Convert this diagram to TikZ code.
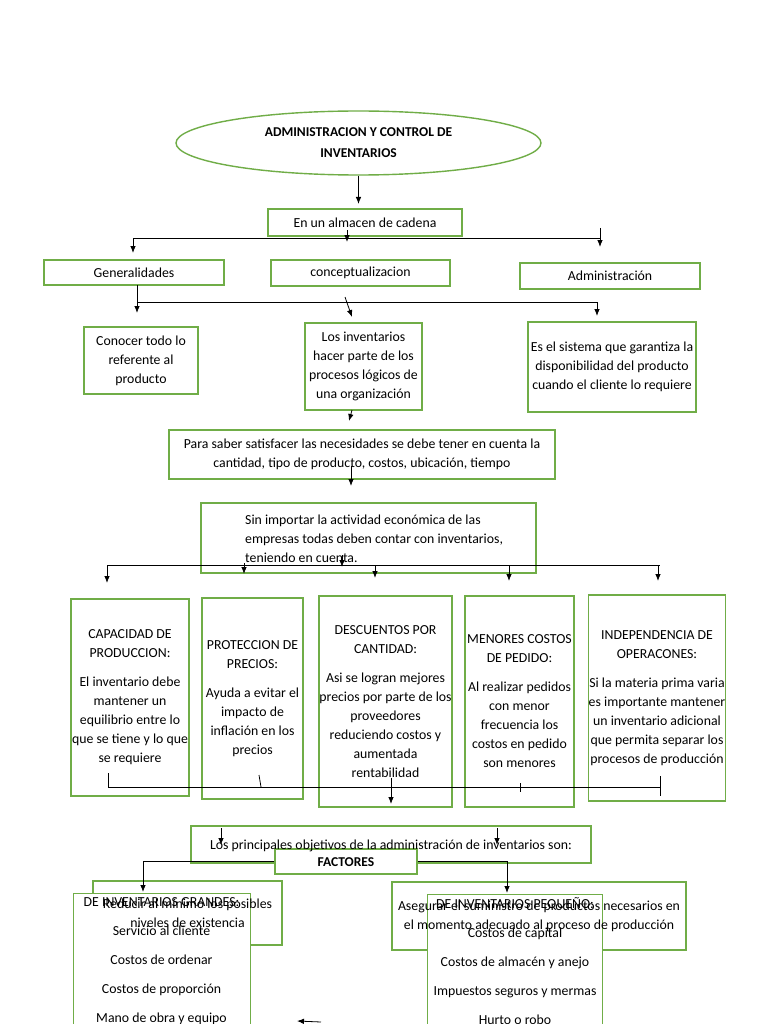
\documentclass[tikz,border=0pt]{standalone}
\usepackage{fontspec}
\setmainfont{Carlito}
\usetikzlibrary{arrows.meta,shapes.geometric}
\definecolor{gbox}{HTML}{70AD47}
\begin{document}
\begin{tikzpicture}[x=1pt,y=-1pt,
  box/.style={draw=gbox,line width=1.4pt,inner sep=0pt,align=center,font=\fontsize{13.8}{19}\selectfont},
  txt/.style={inner sep=0pt,align=center,font=\fontsize{13.8}{19}\selectfont},
  arr/.style={-{Latex[length=7pt,width=5.5pt]},line width=0.8pt},
  ln/.style={line width=0.8pt}]
\useasboundingbox (0,0) rectangle (768,1024);
\clip (0,0) rectangle (768,1024);
\fill[white] (0,0) rectangle (768,1024);

% ---- boxes ----
\node[box,ellipse,minimum width=365,minimum height=64,font=\bfseries\fontsize{13.5}{21}\selectfont] (ell) at (358.5,143) {ADMINISTRACION Y CONTROL DE\\INVENTARIOS};
\node[box,minimum width=194,minimum height=27] (alm) at (365,222.5) {En un almacen de cadena};
\node[box,minimum width=180,minimum height=25] (gen) at (134,272.5) {Generalidades};
\node[box,minimum width=179,minimum height=26] (conc) at (360.5,273) {conceptualizacion};
\node[box,minimum width=180,minimum height=26] (adm) at (610,276) {Administración};
\node[box,minimum width=114,minimum height=67] (conoc) at (141,360.5) {Conocer todo lo\\referente al\\producto};
\node[box,minimum width=117,minimum height=87] (losinv) at (363.5,366.5) {Los inventarios\\hacer parte de los\\procesos lógicos de\\una organización};
\node[box,minimum width=168,minimum height=90] (sist) at (612,367) {Es el sistema que garantiza la\\disponibilidad del producto\\cuando el cliente lo requiere};
\node[box,minimum width=386,minimum height=49] (para) at (362,454.5) {Para saber satisfacer las necesidades se debe tener en cuenta la\\cantidad, tipo de producto, costos, ubicación, tiempo};
\node[box,minimum width=335,minimum height=70] (sin) at (368.5,538) {};
\node[txt,align=left,anchor=west] (sintxt) at (245,538.5) {Sin importar la actividad económica de las\\empresas todas deben contar con inventarios,\\teniendo en cuenta.};

\node[box,minimum width=118,minimum height=197] (cap) at (130,697.5) {CAPACIDAD DE\\PRODUCCION:\\[10pt]El inventario debe\\mantener un\\equilibrio entre lo\\que se tiene y lo que\\se requiere};
\node[box,minimum width=101,minimum height=201] (prot) at (252.5,698.5) {PROTECCION DE\\PRECIOS:\\[10pt]Ayuda a evitar el\\impacto de\\inflación en los\\precios};
\node[box,minimum width=133,minimum height=211] (desc) at (385.5,701.5) {DESCUENTOS POR\\CANTIDAD:\\[10pt]Asi se logran mejores\\precios por parte de los\\proveedores\\reduciendo costos y\\aumentada\\rentabilidad};
\node[box,minimum width=109,minimum height=211] (men) at (519.5,701.5) {MENORES COSTOS\\DE PEDIDO:\\[10pt]Al realizar pedidos\\con menor\\frecuencia los\\costos en pedido\\son menores};
\node[box,minimum width=136,minimum height=206] (indep) at (657,698) {INDEPENDENCIA DE\\OPERACONES:\\[10pt]Si la materia prima varia\\es importante mantener\\un inventario adicional\\que permita separar los\\procesos de producción};

\node[box,minimum width=400,minimum height=37] (obj) at (391,844.5) {};
\node[box,fill=white,minimum width=142,minimum height=25] (fact) at (346,861.5) {};
\node[txt] (objtxt) at (391,846) {Los principales objetivos de la administración de inventarios son:};
\node[txt,font=\bfseries\fontsize{13.5}{19}\selectfont] (facttxt) at (346,862) {FACTORES};

\node[box,minimum width=189,minimum height=64] (red) at (187.5,913) {};
\node[box,fill=white,minimum width=177,minimum height=150,anchor=north west] (gra) at (73,893) {};
\node[txt] (redtxt) at (187.5,913.5) {Reducir al mínimo los posibles\\niveles de existencia};
\node[txt,font=\fontsize{13.8}{29}\selectfont] (gratxt) at (161.5,961) {DE INVENTARIOS GRANDES:\\Servicio al cliente\\Costos de ordenar\\Costos de proporción\\Mano de obra y equipo};

\node[box,minimum width=294,minimum height=68] (aseg) at (539,916) {};
\node[box,fill=white,minimum width=175,minimum height=150,anchor=north west] (peq) at (427,894) {};
\node[txt] (asegtxt) at (539,916.5) {Asegurar el suministro de productos necesarios en\\el momento adecuado al proceso de producción};
\node[txt,font=\fontsize{13.8}{29}\selectfont] (peqtxt) at (515,961.5) {DE INVENTARIOS PEQUEÑO:\\Costos de capital\\Costos de almacén y anejo\\Impuestos seguros y mermas\\Hurto o robo};

% ---- coordinates ----
\coordinate (a1) at (358.5,204);
\coordinate (j1l) at (133,238); \coordinate (j1r) at (600,238);
\coordinate (g1) at (133,253);
\coordinate (m1s) at (347,230); \coordinate (m1e) at (347,242);
\coordinate (r1s) at (600,228); \coordinate (r1e) at (600,247);
\coordinate (g2s) at (137,285); \coordinate (g2e) at (137,313);
\coordinate (j2l) at (137,302); \coordinate (j2r) at (597,302);
\coordinate (c2s) at (345,297); \coordinate (c2e) at (352,317);
\coordinate (a2e) at (597,316);
\coordinate (l3s) at (352,410); \coordinate (l3e) at (349,421);
\coordinate (p3s) at (351,466); \coordinate (p3e) at (351,486);
\coordinate (s1) at (107,565); \coordinate (s2) at (660,565);
\coordinate (s1e) at (107,583);
\coordinate (s3s) at (244,563); \coordinate (s3e) at (244,574);
\coordinate (s4s) at (342,555); \coordinate (s4e) at (342,567);
\coordinate (s5s) at (375,565); \coordinate (s5e) at (375,578);
\coordinate (s6s) at (509,565); \coordinate (s6e) at (509,581);
\coordinate (s7s) at (658,565); \coordinate (s7e) at (658,581);
\coordinate (q1) at (108,787); \coordinate (q2) at (660,787);
\coordinate (q1t) at (108,773);
\coordinate (q3s) at (259,775); \coordinate (q3e) at (261,787);
\coordinate (q4s) at (520,783); \coordinate (q4e) at (520,792);
\coordinate (q5s) at (660,776); \coordinate (q5e) at (660,796);
\coordinate (q6s) at (391,778); \coordinate (q6e) at (391,804);
\coordinate (o1s) at (221,828); \coordinate (o1e) at (221,845);
\coordinate (o2s) at (497,828); \coordinate (o2e) at (497,845);
\coordinate (fl) at (143,892);
\coordinate (fr) at (507,893);
\coordinate (b1) at (321,1022); \coordinate (b2) at (297,1021);

% ---- connectors ----
\draw[arr] (ell.south) -- (a1);
\draw[ln] (j1l) -- (j1r);
\draw[arr] (j1l) -- (g1);
\draw[arr] (m1s) -- (m1e);
\draw[arr] (r1s) -- (r1e);
\draw[arr] (g2s) -- (g2e);
\draw[ln] (j2l) -- (j2r);
\draw[arr] (c2s) -- (c2e);
\draw[arr] (j2r) -- (a2e);
\draw[arr] (l3s) -- (l3e);
\draw[arr] (p3s) -- (p3e);
\draw[ln] (s1) -- (s2);
\draw[arr] (s1) -- (s1e);
\draw[arr] (s3s) -- (s3e);
\draw[arr] (s4s) -- (s4e);
\draw[arr] (s5s) -- (s5e);
\draw[arr] (s6s) -- (s6e);
\draw[arr] (s7s) -- (s7e);
\draw[ln] (q1t) -- (q1) -- (q2);
\draw[ln] (q3s) -- (q3e);
\draw[ln] (q4s) -- (q4e);
\draw[ln] (q5s) -- (q5e);
\draw[arr] (q6s) -- (q6e);
\draw[arr] (o1s) -- (o1e);
\draw[arr] (o2s) -- (o2e);
\draw[arr] (fact.west) -| (fl);
\draw[arr] (fact.east) -| (fr);
\draw[arr] (b1) -- (b2);
\end{tikzpicture}
\end{document}
